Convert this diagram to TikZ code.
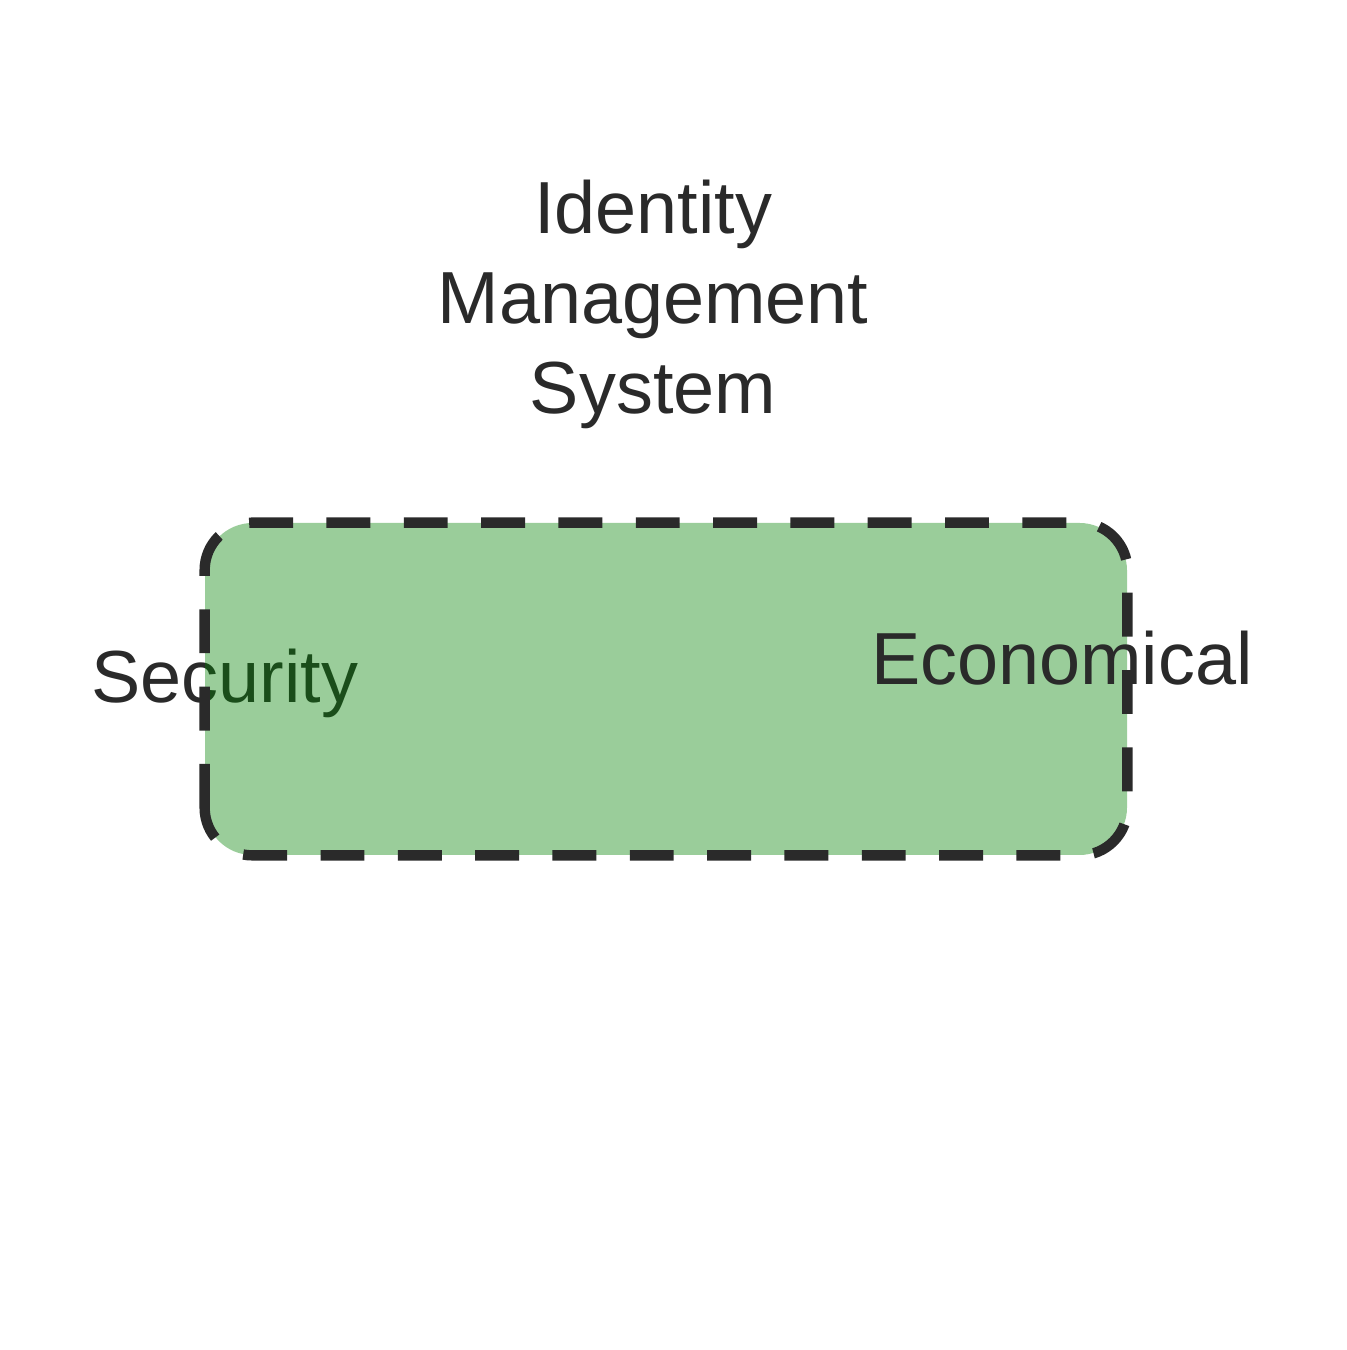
\documentclass[tikz,border=0pt]{standalone}
\usepackage{fontspec}
\setmainfont{Liberation Sans}
\definecolor{ink}{RGB}{42,42,42}
\definecolor{leaf}{RGB}{2,130,2}

\begin{document}
\begin{tikzpicture}
            \tikzstyle{word}=[text=ink, inner sep=0pt,
            font=\fontsize{42}{51}\selectfont]
            \tikzstyle{panel}=[rectangle, rounded corners=0.95cm,
            minimum width=18.44cm, minimum height=6.64cm, inner sep=0pt]
            \useasboundingbox (0,0) rectangle (26.92,27);

            \node[word, align=center] (title) at (13.06,20.91)
            {Identity\\Management\\System};
            \node[word, anchor=base] (sec) at (4.5,12.94) {Security};

            \node[panel, fill=leaf, fill opacity=0.4] (box) at (13.32,13.22) {};

            \node[word, anchor=base] (eco) at (21.24,13.3) {Economical};

            \draw[ink, line width=5.9pt, dash pattern=on 25pt off 19pt,
            rounded corners=0.95cm]
            (box.south west) rectangle (box.north east);
        \end{tikzpicture}
\end{document}
